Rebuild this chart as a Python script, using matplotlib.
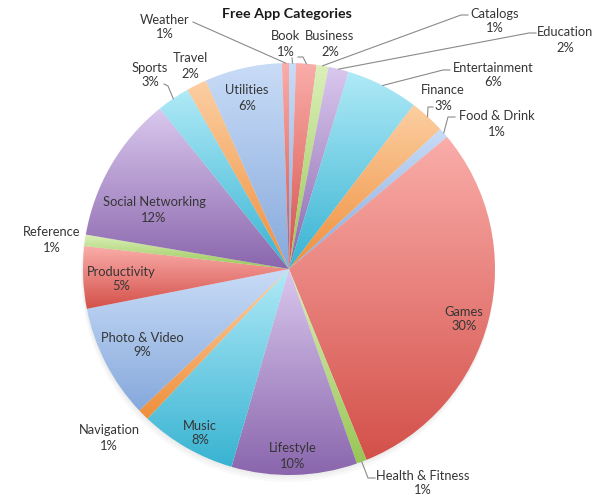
import numpy as np
import matplotlib
matplotlib.use("Agg")
import matplotlib.pyplot as plt
from matplotlib.patches import Circle

plt.rcParams["font.family"] = ["Lato", "DejaVu Sans"]

# values (percent of free apps)
categories = ["Book", "Business", "Catalogs", "Education", "Entertainment", "Finance",
              "Food & Drink", "Games", "Health & Fitness", "Lifestyle", "Music",
              "Navigation", "Photo & Video", "Productivity", "Reference",
              "Social Networking", "Sports", "Travel", "Utilities", "Weather"]
shares = [0.55, 1.6, 0.95, 1.6, 5.7, 2.8, 0.8, 30.1, 0.8, 9.9, 7.6,
          0.9, 9.0, 4.9, 0.9, 11.6, 2.6, 1.6, 6.1, 0.55]

# gradient (top, bottom) for the six-colour cycle
PALETTE = [("#C9DCF7", "#86A9DC"),   # blue
           ("#FAADA9", "#D4504A"),   # red
           ("#DCF0BA", "#98C655"),   # green
           ("#DAC8EE", "#8A66AD"),   # purple
           ("#B0EAF7", "#38B3D2"),   # cyan
           ("#FCCFA3", "#EF8F3B")]   # orange
INK, LEAD = "#353535", "#8a8a8a"

# label centres in pixels (x from left, y from top); leader anchor if any
W, H = 600, 504
CX, CY, R = 289, 269, 206
LABELS = {
    "Weather": (165, 27), "Book": (286, 44), "Business": (330, 44),
    "Catalogs": (495, 21), "Education": (565, 40), "Entertainment": (493, 75),
    "Finance": (443, 98), "Food & Drink": (497, 124), "Games": (464, 319),
    "Health & Fitness": (423, 483), "Lifestyle": (293, 456), "Music": (200, 433),
    "Navigation": (109, 438), "Photo & Video": (142, 345), "Productivity": (121, 279),
    "Reference": (52, 240), "Social Networking": (154, 210), "Sports": (150, 75),
    "Travel": (190, 66), "Utilities": (247, 98),
}
LEADERS = {
    "Weather": [(193, 22)], "Book": [(292, 58)], "Business": [(298, 57), (303, 57)],
    "Catalogs": [(468, 15), (461, 15)], "Education": [(536, 33), (529, 33)],
    "Entertainment": [(450, 70), (443, 70)], "Finance": [(433, 107), (428, 107)],
    "Food & Drink": [(455, 117), (448, 117)],
    "Health & Fitness": [(375, 478), (368, 478)], "Sports": [(164, 84), (168, 86)],
}


def px(x, y):
    return (x - CX) / R, (CY - y) / R


fig = plt.figure(figsize=(W / 100, H / 100), dpi=100)
ax = fig.add_axes([0, 0, 1, 1])

# very faint drop shadow below the pie
for k, a in enumerate([0.025, 0.025, 0.025]):
    ax.add_patch(Circle((-0.002 * (k + 1), -0.01 * (k + 1)), 1.0 + 0.002 * k,
                        fc="#000000", ec="none", alpha=a, zorder=0))

wedges, _ = ax.pie(shares, startangle=90, counterclock=False, radius=1, center=(0, 0),
                   wedgeprops=dict(linewidth=0))

ramp = np.linspace(0, 1, 256)[:, None, None]
for i, w in enumerate(wedges):
    top, bot = PALETTE[i % len(PALETTE)]
    c0 = np.array(matplotlib.colors.to_rgb(top))
    c1 = np.array(matplotlib.colors.to_rgb(bot))
    img = c0 * (1 - ramp) + c1 * ramp
    bb = w.get_path().get_extents()
    w.set_facecolor("none")
    w.set_edgecolor("none")
    im = ax.imshow(img, extent=(bb.x0, bb.x1, bb.y0, bb.y1), origin="upper",
                   aspect="auto", interpolation="bilinear", zorder=1)
    im.set_clip_path(w)

total = sum(shares)
for w, name, v in zip(wedges, categories, shares):
    pct = int(v / total * 100 + 0.5)
    lx, ly = px(*LABELS[name])
    ax.text(lx, ly, f"{name}\n{pct}%", ha="center", va="center", fontsize=9.3,
            color=INK, linespacing=1.3, zorder=5)
    if name in LEADERS:
        mid = np.deg2rad((w.theta1 + w.theta2) / 2)
        pts = [px(*p) for p in LEADERS[name]] + [(np.cos(mid), np.sin(mid))]
        xs, ys = zip(*pts)
        ax.plot(xs, ys, color=LEAD, lw=0.8, zorder=4)

ax.set_xlim(-CX / R, (W - CX) / R)
ax.set_ylim(-(H - CY) / R, CY / R)
ax.set_aspect("auto")
ax.axis("off")

fig.text(287 / W, 1 - 14 / H, "Free App Categories", ha="center", va="center",
         fontsize=10.3, fontweight="bold", color="#1a1a1a")

fig.savefig("out.png", dpi=100, facecolor="white")
